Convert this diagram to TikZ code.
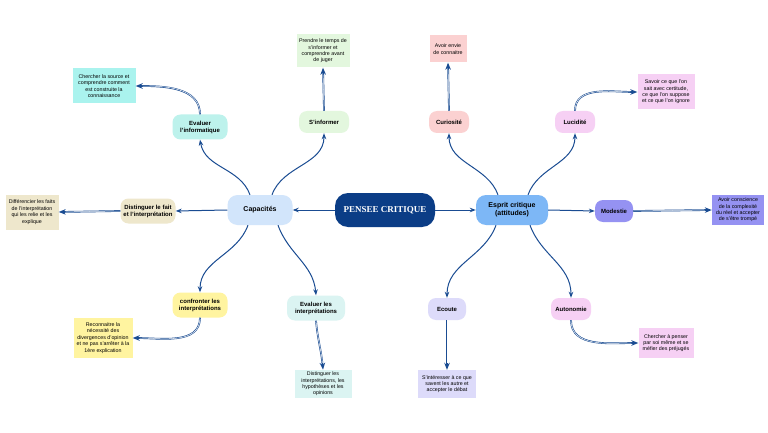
\documentclass[tikz,border=0pt]{standalone}
\usepackage{fontspec}
\setmainfont{Liberation Sans}
\newfontfamily\titlefont{Liberation Serif}
\usetikzlibrary{arrows.meta}
\definecolor{mapblue}{HTML}{0B3D86}
\definecolor{linkblue}{HTML}{1A4C92}
\definecolor{capfill}{HTML}{D2E5FB}
\definecolor{espfill}{HTML}{7DB7F6}
\definecolor{aquafill}{HTML}{BDF2EC}
\definecolor{greenfill}{HTML}{E3F7DE}
\definecolor{beigefill}{HTML}{EEE7CC}
\definecolor{yellowfill}{HTML}{FFF4A0}
\definecolor{icefill}{HTML}{DBF4F2}
\definecolor{pinkfill}{HTML}{FBD1D1}
\definecolor{orchidfill}{HTML}{F6D0F4}
\definecolor{violetfill}{HTML}{9592F2}
\definecolor{lilacfill}{HTML}{DDDBFA}
\tikzset{
  mapcentre/.style={fill=mapblue, text=white, rounded corners=13pt, minimum width=100pt,
    minimum height=34pt, font=\titlefont\bfseries\fontsize{9}{10}\selectfont},
  maptopic/.style={rounded corners=10pt, minimum height=30pt, align=center,
    font=\bfseries\fontsize{7}{8}\selectfont, inner sep=2pt},
  mapsub/.style={rounded corners=8pt, minimum height=22pt, align=center,
    font=\bfseries\fontsize{6}{7}\selectfont, inner sep=2pt},
  mapnote/.style={align=center, font=\fontsize{5.3}{6.4}\selectfont, inner sep=2pt},
  maplink/.style={draw=linkblue, line width=1pt, -{Stealth[length=6pt,width=4.5pt]}},
  mapdouble/.style={draw=linkblue, line width=1.7pt, -{Stealth[length=7pt,width=5.5pt]},
    postaction={draw=white, line width=0.5pt, -, shorten >=7pt}},
}

\begin{document}
\begin{tikzpicture}[x=1pt,y=1pt]
  \fill[white] (0,0) rectangle (768,-433);
  \useasboundingbox (0,0) rectangle (768,-433);
  % centre and the two main branches
  \node[mapcentre] (centre) at (385,-210) {PENSEE CRITIQUE};
  \node[maptopic, fill=capfill, minimum width=65pt] (cap) at (260,-210) {Capacités};
  \node[maptopic, fill=espfill, minimum width=72pt] (esp) at (512,-210) {Esprit critique\\(attitudes)};
  \draw[maplink] (centre.west) -- (cap.east);
  \draw[maplink] (centre.east) -- (esp.west);
  % capacites
  \node[mapsub, fill=aquafill, minimum width=55pt, minimum height=25pt] (evinfo) at (200,-127) {Evaluer\\l'informatique};
  \node[mapnote, fill=aquafill!90!cyan, minimum width=63pt, minimum height=35pt] (chsrc) at (104,-86) {Chercher la source et\\comprendre comment\\est construite la\\connaissance};
  \node[mapsub, fill=greenfill, minimum width=50pt] (sinf) at (324,-122) {S'informer};
  \node[mapnote, fill=greenfill, minimum width=53pt, minimum height=33pt] (prend) at (323,-51) {Prendre le temps de\\s'informer et\\comprendre avant\\de juger};
  \node[mapsub, fill=beigefill, minimum width=55pt, minimum height=25pt] (dfait) at (148,-211) {Distinguer le fait\\et l'interprétation};
  \node[mapnote, fill=beigefill, minimum width=53pt, minimum height=35pt] (diff) at (32,-212) {Différencier les faits\\de l'interprétation\\qui les relie et les\\explique};
  \node[mapsub, fill=yellowfill, minimum width=55pt, minimum height=25pt] (confr) at (200,-305) {confronter les\\interprétations};
  \node[mapnote, fill=yellowfill, minimum width=59pt, minimum height=40pt] (recon) at (103,-338) {Reconnaitre la\\nécessité des\\divergences d'opinion\\et ne pas s'arrêter à la\\1ère explication};
  \node[mapsub, fill=icefill, minimum width=58pt, minimum height=25pt] (evint) at (316,-308) {Evaluer les\\interprétations};
  \node[mapnote, fill=icefill, minimum width=57pt, minimum height=28pt] (dinterp) at (323,-384) {Distinguer les\\interprétations, les\\hypothèses et les\\opinions};
  \draw[maplink] ([xshift=-10pt]cap.north) to[out=110,in=-80] (evinfo.south);
  \draw[maplink] ([xshift=12pt]cap.north) to[out=70,in=-90] (sinf.south);
  \draw[maplink] (cap.west) -- (dfait.east);
  \draw[maplink] ([xshift=-12pt]cap.south) to[out=-110,in=90] (confr.north);
  \draw[maplink] ([xshift=18pt]cap.south) to[out=-70,in=95] (evint.north);
  \draw[mapdouble] (evinfo.north) to[out=90,in=0] (chsrc.east);
  \draw[mapdouble] (sinf.north) -- (prend.south);
  \draw[mapdouble] (dfait.west) -- (diff.east);
  \draw[mapdouble] (confr.south) to[out=-90,in=0] (recon.east);
  \draw[mapdouble] (evint.south) to[out=-85,in=95] (dinterp.north);
  % esprit critique
  \node[mapsub, fill=pinkfill, minimum width=40pt] (curio) at (449,-122) {Curiosité};
  \node[mapnote, fill=pinkfill, minimum width=37pt, minimum height=27pt] (envie) at (448,-49) {Avoir envie\\de connaitre};
  \node[mapsub, fill=orchidfill, minimum width=40pt] (lucid) at (575,-122) {Lucidité};
  \node[mapnote, fill=orchidfill, minimum width=57pt, minimum height=35pt] (savoir) at (666,-92) {Savoir ce que l'on\\sait avec certitude,\\ce que l'on suppose\\et ce que l'on ignore};
  \node[mapsub, fill=violetfill, minimum width=38pt] (modes) at (614,-211) {Modestie};
  \node[mapnote, fill=violetfill, minimum width=52pt, minimum height=30pt] (consc) at (738,-210) {Avoir conscience\\de la complexité\\du réel et accepter\\de s'être trompé};
  \node[mapsub, fill=lilacfill, minimum width=38pt] (ecout) at (447,-309) {Ecoute};
  \node[mapnote, fill=lilacfill, minimum width=58pt, minimum height=28pt] (inter) at (447,-384) {S'intéresser à ce que\\savent les autre et\\accepter le débat};
  \node[mapsub, fill=orchidfill, minimum width=40pt] (auton) at (571,-309) {Autonomie};
  \node[mapnote, fill=orchidfill, minimum width=55pt, minimum height=30pt] (chpens) at (666,-343) {Chercher à penser\\par soi même et se\\méfier des préjugés};
  \draw[maplink] ([xshift=-14pt]esp.north) to[out=110,in=-90] (curio.south);
  \draw[maplink] ([xshift=16pt]esp.north) to[out=70,in=-90] (lucid.south);
  \draw[maplink] (esp.east) -- (modes.west);
  \draw[maplink] ([xshift=-16pt]esp.south) to[out=-110,in=90] (ecout.north);
  \draw[maplink] ([xshift=18pt]esp.south) to[out=-70,in=90] (auton.north);
  \draw[mapdouble] (curio.north) -- (envie.south);
  \draw[mapdouble] (lucid.north) to[out=90,in=180] (savoir.west);
  \draw[mapdouble] (modes.east) -- (consc.west);
  \draw[mapdouble] (ecout.south) -- (inter.north);
  \draw[mapdouble] (auton.south) to[out=-90,in=180] (chpens.west);
\end{tikzpicture}
\end{document}
